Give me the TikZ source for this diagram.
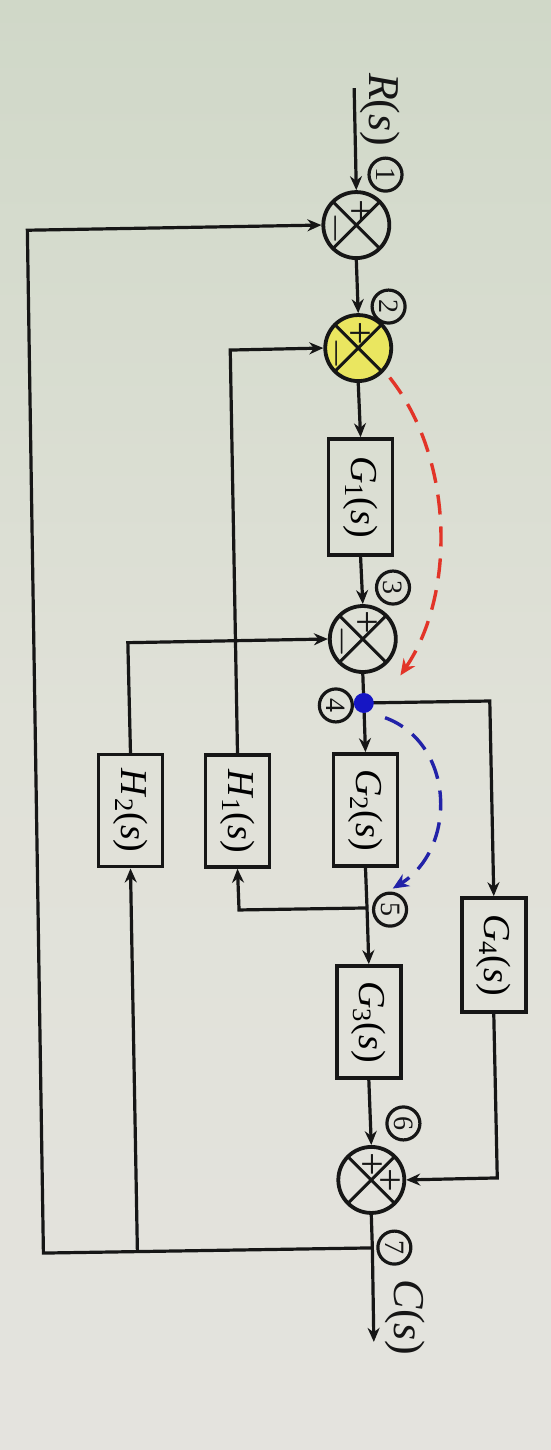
\documentclass[tikz,border=0pt]{standalone}
\usepackage{fontspec}
\setmainfont{Liberation Serif}
\usetikzlibrary{arrows.meta,calc}
\definecolor{bgtop}{RGB}{208,216,200}
\definecolor{bgmid}{RGB}{224,225,216}
\definecolor{bgbot}{RGB}{228,227,222}
\definecolor{ink}{RGB}{22,22,22}
\definecolor{sumyellow}{RGB}{234,230,96}
\definecolor{dashred}{RGB}{226,52,40}
\definecolor{dashblue}{RGB}{34,34,168}
\definecolor{dotblue}{RGB}{22,22,196}
\newcommand{\tfn}[2]{\textit{#1}\textsubscript{#2}(\textit{s})}
\begin{document}
\begin{tikzpicture}[x=0.5pt,y=-0.5pt,
  blk/.style={draw=ink, line width=1.8pt, minimum width=32pt, minimum height=56pt, inner sep=0pt, font=\fontsize{19}{22}\selectfont},
  sumnode/.style={circle, draw=ink, line width=1.9pt, minimum size=33pt, inner sep=0pt,
    path picture={\draw[ink,line width=1.5pt] (path picture bounding box.north west)--(path picture bounding box.south east) (path picture bounding box.north east)--(path picture bounding box.south west);}},
  sign/.style={rotate=-90, font=\fontsize{21}{21}\selectfont, inner sep=0pt, text=ink},
  num/.style={circle, draw=ink, line width=1.6pt, minimum size=16.5pt, inner sep=0pt, rotate=-90, font=\fontsize{14}{14}\selectfont, text=ink},
  lbl/.style={rotate=-90, font=\fontsize{22}{24}\selectfont, inner sep=0pt, text=ink},
  wire/.style={draw=ink, line width=1.6pt},
  arr/.style={wire, -{Stealth[length=7pt,width=6pt]}},
  dashcurve/.style={line width=1.7pt, dash pattern=on 10pt off 6pt}
]
\shade[top color=bgtop, bottom color=bgbot, middle color=bgmid] (0,0) rectangle (551,1450);
\useasboundingbox (0,0) rectangle (551,1450);
\begin{scope}[rotate around={0.9:(364,715)}]
% main chain
\coordinate (rin) at (364,88);
\node[sumnode] (s1) at (364,225) {};
\node[sumnode, fill=sumyellow] (s2) at (364,348) {};
\node[blk, minimum height=58pt] (g1) at (364,497) {\rotatebox{-90}{\tfn{G}{1}}};
\node[sumnode] (s3) at (364,639) {};
\coordinate (p4) at (364,703);
\node[blk] (g2) at (364,810) {\rotatebox{-90}{\tfn{G}{2}}};
\coordinate (p5) at (364,908);
\node[blk] (g3) at (364,1022) {\rotatebox{-90}{\tfn{G}{3}}};
\node[sumnode] (s6) at (364,1180) {};
\coordinate (p7) at (364,1248);
\coordinate (out) at (364,1342);
% side blocks
\node[blk, minimum height=57pt] (g4) at (490,957) {\rotatebox{-90}{\tfn{G}{4}}};
\node[blk] (h1) at (236,809) {\rotatebox{-90}{\tfn{H}{1}}};
\node[blk] (h2) at (129,807) {\rotatebox{-90}{\tfn{H}{2}}};
% corners
\coordinate (g4a) at (490,703);
\coordinate (g4b) at (490,1180);
\coordinate (h1a) at (236,908);
\coordinate (h1b) at (236,348);
\coordinate (h2a) at (129,1248);
\coordinate (h2b) at (129,639);
\coordinate (oa) at (35,1248);
\coordinate (ob) at (35,225);
% forward path
\draw[arr] (rin) -- (s1.north);
\draw[arr] (s1.south) -- (s2.north);
\draw[arr] (s2.south) -- (g1.north);
\draw[arr] (g1.south) -- (s3.north);
\draw[wire] (s3.south) -- (p4);
\draw[arr] (p4) -- (g2.north);
\draw[wire] (g2.south) -- (p5);
\draw[arr] (p5) -- (g3.north);
\draw[arr] (g3.south) -- (s6.north);
\draw[wire] (s6.south) -- (p7);
\draw[arr] (p7) -- (out);
% G4 path
\draw[arr] (p4) -- (g4a) -- (g4.north);
\draw[arr] (g4.south) -- (g4b) -- (s6.east);
% H1 loop
\draw[arr] (p5) -- (h1a) -- (h1.south);
\draw[arr] (h1.north) -- (h1b) -- (s2.west);
% H2 loop
\draw[arr] (h2a) -- (h2.south);
\draw[arr] (h2.north) -- (h2b) -- (s3.west);
% outer loop
\draw[arr] (p7) -- (oa) -- (ob) -- (s1.west);
% blue dot
\fill[dotblue] (p4) circle (5pt);
% signs
\node[sign] at ($(s1)+(3,-14)$) {+};
\node[sign] at ($(s1)+(-21,3)$) {$-$};
\node[sign] at ($(s2)+(0,-15)$) {+};
\node[sign] at ($(s2)+(-22,5)$) {$-$};
\node[sign] at ($(s3)+(3,-17)$) {+};
\node[sign] at ($(s3)+(-21,2)$) {$-$};
\node[sign] at ($(s6)+(-1,-16)$) {+};
\node[sign] at ($(s6)+(17,1)$) {+};
% labels
\node[lbl] (rlab) at (390,110) {\textit{R}(\textit{s})};
\node[lbl] (clab) at (396,1318) {\textit{C}(\textit{s})};
\node[num] (n1) at (394,175) {1};
\node[num] (n2) at (395,307) {2};
\node[num] (n3) at (395,588) {3};
\node[num] (n4) at (336,705) {4};
\node[num] (n5) at (387,910) {5};
\node[num] (n6) at (397,1124) {6};
\node[num] (n7) at (386,1248) {7};
% dashed curves
\draw[dashcurve, draw=dashred, -{Stealth[length=8pt,width=7pt,fill=dashred]}] (395,378) .. controls (458,460) and (458,595) .. (401,676);
\draw[dashcurve, draw=dashblue, -{Stealth[length=8pt,width=7pt,fill=dashblue]}] (385,718) .. controls (455,745) and (455,850) .. (390,889);
\end{scope}
\end{tikzpicture}
\end{document}
